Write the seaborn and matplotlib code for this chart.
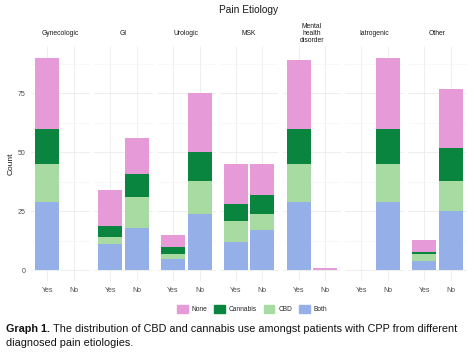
import matplotlib
matplotlib.use('Agg')
import matplotlib.pyplot as plt
import matplotlib.patches as mpatches
import pandas as pd
import seaborn as sns

sns.set_style('whitegrid')
plt.rcParams['font.family'] = ['Liberation Sans', 'DejaVu Sans']

etiologies = ['Gynecologic', 'GI', 'Urologic', 'MSK', 'Mental\nhealth\ndisorder', 'Iatrogenic', 'Other']
groups = ['Yes', 'No']
# counts per etiology, ordered Yes then No
both = [29, 0, 11, 18, 5, 24, 12, 17, 29, 0, 0, 29, 4, 25]
cbd = [16, 0, 3, 13, 2, 14, 9, 7, 16, 0, 0, 16, 3, 13]
cannabis = [15, 0, 5, 10, 3, 12, 7, 8, 15, 0, 0, 15, 1, 14]
none = [30, 0, 15, 15, 5, 25, 17, 13, 29, 1, 0, 30, 5, 25]

colors = {'None': '#E69BD8', 'Cannabis': '#0A8540', 'CBD': '#A7DBA1', 'Both': '#95AFE8'}

df = pd.DataFrame({
    'etiology': [e for e in etiologies for g in groups],
    'group': groups * len(etiologies),
    'Both': both, 'CBD': cbd, 'Cannabis': cannabis, 'None': none,
})
# cumulative heights so each layer sits on top of the one below
df['c_both'] = df['Both']
df['c_cbd'] = df['c_both'] + df['CBD']
df['c_cannabis'] = df['c_cbd'] + df['Cannabis']
df['c_none'] = df['c_cannabis'] + df['None']

fig, axes = plt.subplots(1, 7, figsize=(4.74, 3.54), dpi=100, sharey=True)
fig.subplots_adjust(left=0.066, right=0.985, top=0.870, bottom=0.206, wspace=0.07)

for ax, et in zip(axes, etiologies):
    d = df[df['etiology'] == et]
    for col, name in [('c_none', 'None'), ('c_cannabis', 'Cannabis'), ('c_cbd', 'CBD'), ('c_both', 'Both')]:
        sns.barplot(data=d, x='group', y=col, order=groups, color=colors[name],
                    width=0.9, saturation=1, ax=ax, linewidth=0)
    ax.set_xlim(-0.6, 1.6)
    ax.set_ylim(-4.5, 95)
    ax.set_yticks([0, 25, 50, 75])
    ax.set_yticks([12.5, 37.5, 62.5, 87.5], minor=True)
    ax.grid(True, which='major', color='#EBEBEB', linewidth=0.6)
    ax.grid(True, which='minor', axis='y', color='#F3F3F3', linewidth=0.4)
    ax.set_axisbelow(True)
    for s in ax.spines.values():
        s.set_visible(False)
    ax.set_xlabel('')
    ax.set_ylabel('')
    ax.tick_params(axis='both', length=0, labelsize=5, labelcolor='#4D4D4D', pad=4)
    ax.text(0.5, 1.055, et, transform=ax.transAxes, ha='center', va='center',
            fontsize=4.9, color='#1A1A1A', linespacing=1.0)

axes[0].set_ylabel('Count', fontsize=6, color='#1A1A1A', labelpad=2)

fig.text(0.525, 0.972, 'Pain Etiology', ha='center', va='center', fontsize=7.3, color='#1A1A1A')

handles = [mpatches.Patch(color=colors[n], label=n) for n in ['None', 'Cannabis', 'CBD', 'Both']]
fig.legend(handles=handles, loc='center', bbox_to_anchor=(0.532, 0.127), ncol=4, frameon=False,
           fontsize=4.8, handlelength=1.6, handleheight=1.6, handletextpad=0.6, columnspacing=1.0)

t1 = fig.text(0.013, 0.071, 'Graph 1.', fontsize=7.8, fontweight='bold', va='center', color='#111111')
fig.canvas.draw()
bb = t1.get_window_extent()
x2 = (bb.x1 + 3) / fig.bbox.width
fig.text(x2, 0.071, 'The distribution of CBD and cannabis use amongst patients with CPP from different',
         fontsize=7.8, va='center', color='#111111')
fig.text(0.013, 0.031, 'diagnosed pain etiologies.', fontsize=7.8, va='center', color='#111111')

plt.savefig('out.png', dpi=100)
